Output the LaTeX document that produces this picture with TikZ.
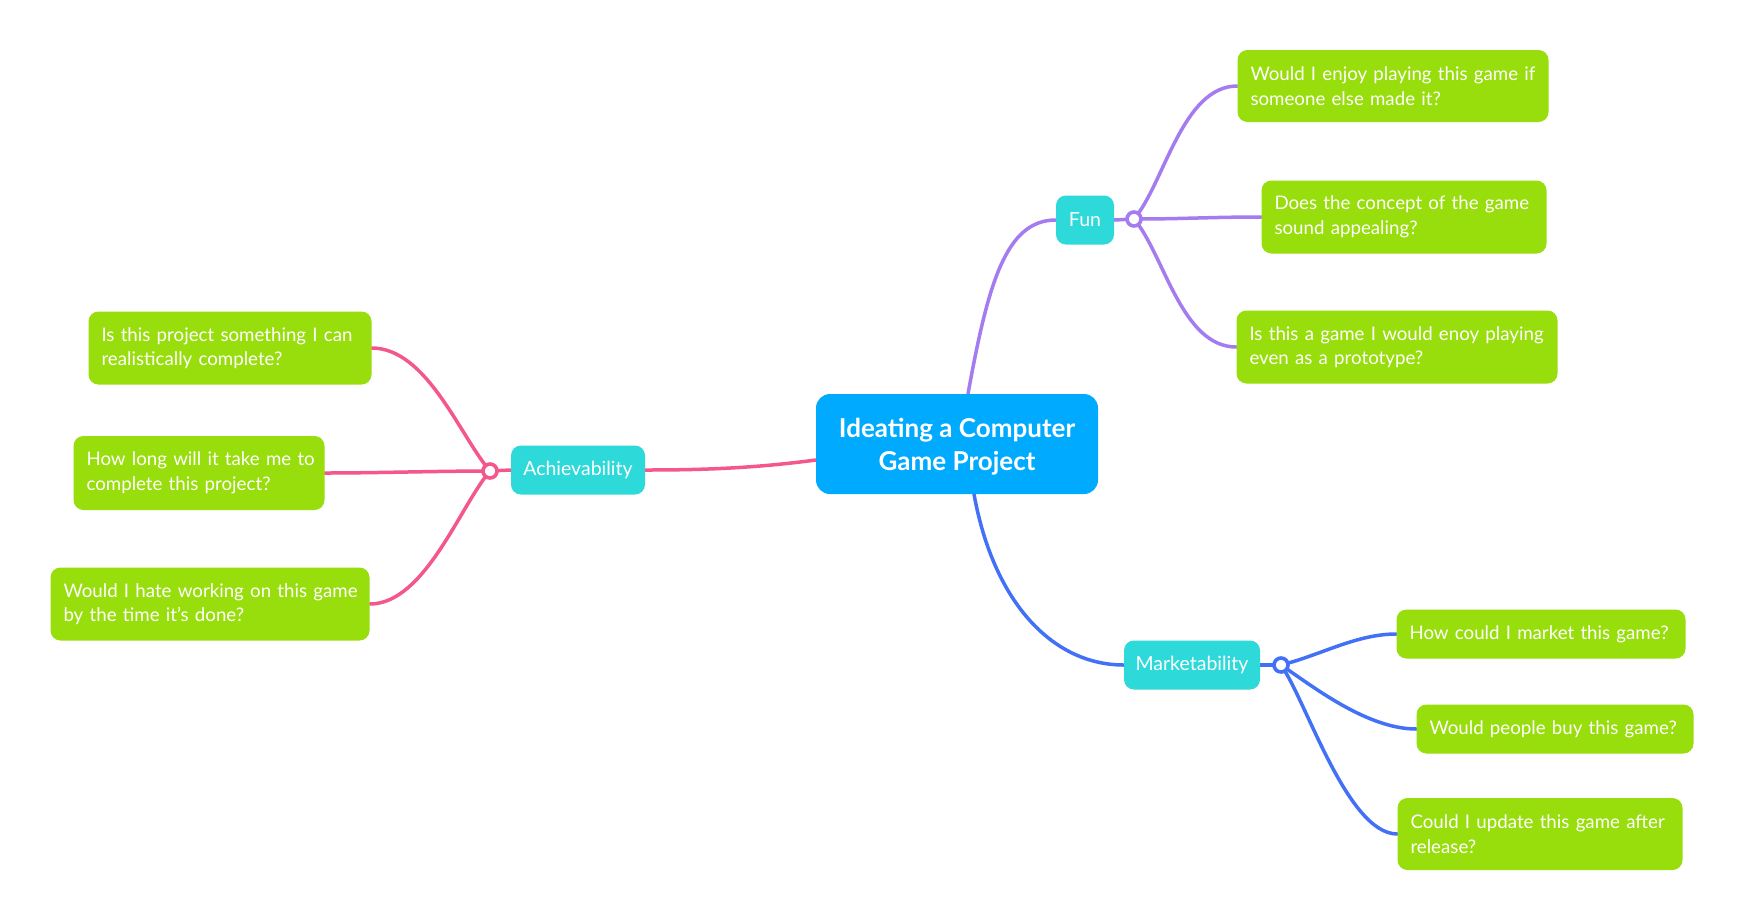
\documentclass[tikz,border=0pt]{standalone}
\usepackage{fontspec}
\setmainfont{Lato}
\pgfdeclarelayer{back}
\pgfdeclarelayer{bg}
\pgfsetlayers{back,bg,main}
\definecolor{centerblue}{HTML}{00AAFF}
\definecolor{subcyan}{HTML}{2DD9D9}
\definecolor{leafgreen}{HTML}{98DD0C}
\definecolor{pinkline}{HTML}{F4578C}
\definecolor{purpleline}{HTML}{A47CF0}
\definecolor{blueline}{HTML}{4271F7}
\newcommand{\myln}[1]{\mbox{#1}}
\tikzset{
  centernode/.style={fill=centerblue, rounded corners=14pt, text=white, font=\fontsize{26}{33}\selectfont\bfseries, align=center, minimum width=282pt, minimum height=100pt, inner sep=0pt},
  subnode/.style={fill=subcyan, rounded corners=10pt, text=white, font=\fontsize{19.5}{24}\selectfont, minimum height=49pt, inner sep=0pt},
  leaf/.style={fill=leafgreen, rounded corners=10pt, text=white, font=\fontsize{18.7}{24.5}\selectfont, align=left, inner xsep=13pt, inner ysep=0pt},
  junction/.style={circle, draw, fill=white, line width=3.6pt, minimum size=14pt, inner sep=0pt},
  conn/.style={line width=3.5pt, line cap=round}
}
\begin{document}
\begin{tikzpicture}[x=1pt,y=-1pt]
\begin{pgfonlayer}{back}
\fill[white] (0,0) rectangle (1745,922);
\end{pgfonlayer}
\useasboundingbox (0,0) rectangle (1745,922);
% central
\node[centernode] (c) at (957,444) {\rule{0pt}{25pt}Ideating a Computer\\Game Project};
% subtopics
\node[subnode, minimum width=58pt] (fun) at (1085,220) {Fun};
\node[subnode, minimum width=136pt] (mkt) at (1192,665) {Marketability};
\node[subnode, minimum width=134pt] (ach) at (578,470) {Achievability};
% junctions
\node[junction, draw=purpleline] (j1) at (1134,219) {};
\node[junction, draw=blueline] (j2) at (1281,665) {};
\node[junction, draw=pinkline] (j3) at (490,471) {};
% leaves
\node[leaf, text width=285pt, minimum height=72pt] (f1) at (1393,86) {\myln{Would I enjoy playing this game if}\\\myln{someone else made it?}};
\node[leaf, text width=259pt, minimum height=73pt] (f2) at (1404,217) {\myln{Does the concept of the game}\\\myln{sound appealing?}};
\node[leaf, text width=295pt, minimum height=73pt] (f3) at (1397,347) {\myln{Is this a game I would enoy playing}\\\myln{even as a prototype?}};
\node[leaf, text width=263pt, minimum height=49pt] (m1) at (1541,634) {\myln{How could I market this game?}};
\node[leaf, text width=251pt, minimum height=49pt] (m2) at (1555,729) {\myln{Would people buy this game?}};
\node[leaf, text width=259pt, minimum height=72pt] (m3) at (1540,834) {\myln{Could I update this game after}\\\myln{release?}};
\node[leaf, text width=257pt, minimum height=73pt] (a1) at (230,348) {\myln{Is this project something I can}\\\myln{realistically complete?}};
\node[leaf, text width=225pt, minimum height=74pt] (a2) at (199,473) {\myln{How long will it take me to}\\\myln{complete this project?}};
\node[leaf, text width=293pt, minimum height=73pt] (a3) at (210,604) {\myln{Would I hate working on this game}\\\myln{by the time it's done?}};
\begin{pgfonlayer}{bg}
% central connectors
\draw[conn, purpleline] ([xshift=11pt]c.north) .. controls +(20,-110) and +(-50,0) .. (fun.west);
\draw[conn, blueline] ([xshift=17pt]c.south) .. controls +(20,110) and +(-70,0) .. (mkt.west);
\draw[conn, pinkline] ([yshift=-16pt]c.west) .. controls +(-60,8) and +(60,0) .. (ach.east);
% sub to junction
\draw[conn, purpleline] (fun.east) -- (j1.center);
\draw[conn, blueline] (mkt.east) -- (j2.center);
\draw[conn, pinkline] (ach.west) -- (j3.center);
% junction to leaves
\draw[conn, purpleline] (j1.center) .. controls +(30,-35) and +(-55,0) .. (f1.west);
\draw[conn, purpleline] (j1.center) .. controls +(50,0) and +(-50,0) .. (f2.west);
\draw[conn, purpleline] (j1.center) .. controls +(30,35) and +(-55,0) .. (f3.west);
\draw[conn, blueline] (j2.center) .. controls +(40,-10) and +(-40,0) .. (m1.west);
\draw[conn, blueline] (j2.center) .. controls +(30,20) and +(-50,0) .. (m2.west);
\draw[conn, blueline] (j2.center) .. controls +(25,35) and +(-50,0) .. (m3.west);
\draw[conn, pinkline] (j3.center) .. controls +(-30,-35) and +(55,0) .. (a1.east);
\draw[conn, pinkline] (j3.center) .. controls +(-50,0) and +(50,0) .. (a2.east);
\draw[conn, pinkline] (j3.center) .. controls +(-30,35) and +(55,0) .. (a3.east);
\end{pgfonlayer}
\end{tikzpicture}
\end{document}
